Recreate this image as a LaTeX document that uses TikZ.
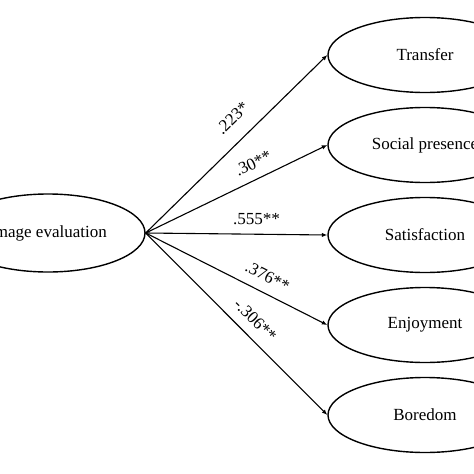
\documentclass[tikz,border=0pt]{standalone}
\usepackage{fontspec}
\setmainfont{Liberation Serif}
\usetikzlibrary{positioning,arrows.meta,shapes.geometric}

\begin{document}
\begin{tikzpicture}[x=1pt, y=-1pt, font=\fontsize{17}{20}\selectfont,
  construct/.style={draw, ellipse, line width=1.4pt, minimum width=194pt, minimum height=75pt, inner sep=0pt},
  effect/.style={-{Latex[length=5.5pt,width=4.5pt]}, line width=1.1pt},
  coef/.style={sloped, inner sep=0pt}]
  \useasboundingbox (0,0) rectangle (474,474);

  \node[construct, minimum height=78pt] (eval) at (48,233) {Image evaluation};
  \node[construct] (transfer) at (425,55) {Transfer};
  \node[construct] (social) at (425,145) {Social presence};
  \node[construct] (satis) at (425,235) {Satisfaction};
  \node[construct] (enjoy) at (425,325) {Enjoyment};
  \node[construct] (bored) at (425,415) {Boredom};

  \draw[effect] (eval.east) -- node[coef, pos=0.56, above=15pt] {.223*} (transfer.west);
  \draw[effect] (eval.east) -- node[coef, pos=0.63, above=9.5pt] {.30**} (social.west);
  \draw[effect] (eval.east) -- node[coef, pos=0.61, above=9pt] {.555**} (satis.west);
  \draw[effect] (eval.east) -- node[coef, pos=0.63, above=10pt] {.376**} (enjoy.west);
  \draw[effect] (eval.east) -- node[coef, pos=0.54, above=10pt] {-.306**} (bored.west);
\end{tikzpicture}
\end{document}
